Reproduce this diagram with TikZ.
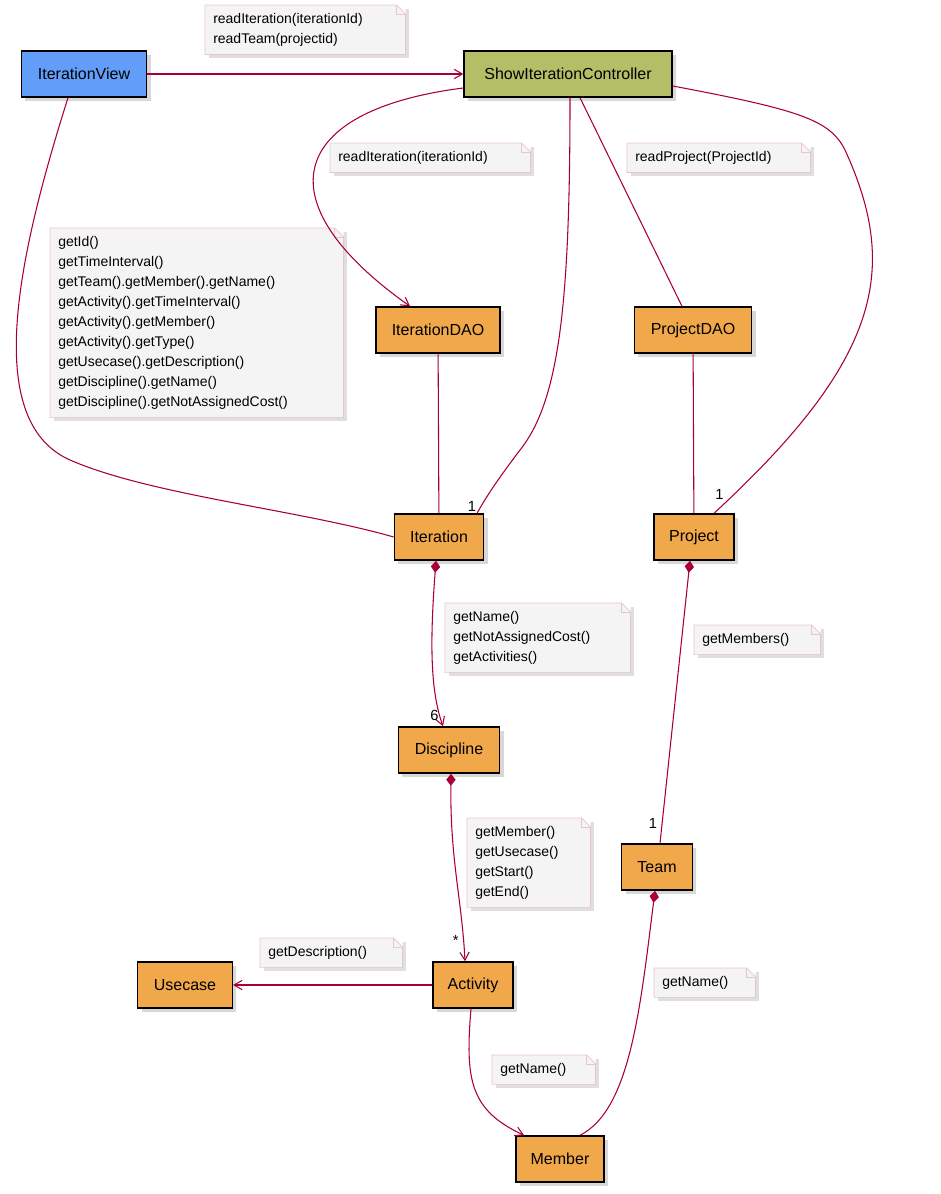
\documentclass[tikz,border=0pt]{standalone}
\usepackage{fontspec}
\setmainfont{Liberation Sans}
\usetikzlibrary{arrows.meta,shadows,calc}
\definecolor{ln}{HTML}{A80036}
\definecolor{cls}{HTML}{F1A84A}
\definecolor{vw}{HTML}{629EF9}
\definecolor{ctl}{HTML}{B4BE67}
\definecolor{notef}{HTML}{F4F4F4}
\definecolor{noteb}{HTML}{E8C4CC}
\tikzset{
 x=0.75pt,y=-0.75pt,
 box/.style={draw=black,line width=1.1pt,fill=cls,minimum height=34.5pt,inner xsep=8pt,font=\fontsize{12}{14}\selectfont,drop shadow={shadow xshift=3pt,shadow yshift=-3pt,fill=gray!60}},
 note/.style={fill=notef,draw=none,anchor=north west,align=left,inner xsep=6pt,inner ysep=6pt,font=\fontsize{10.5}{15}\selectfont,drop shadow={shadow xshift=3pt,shadow yshift=-3pt,fill=gray!50}},
 e/.style={draw=ln,line width=0.8pt},
 ar/.style={e,-{Straight Barb[length=6pt,width=7pt]}},
 di/.style={e,{Diamond[length=9pt,width=7pt,fill=ln]}-},
 dia/.style={e,{Diamond[length=9pt,width=7pt,fill=ln]}-{Straight Barb[length=6pt,width=7pt]}},
 lb/.style={font=\fontsize{11}{13}\selectfont}
}
\newcommand{\nt}[4]{% name, pos, width(px), text
 \node[note,text width=#3*0.75pt-12pt] (#1) at (#2) {#4};
 \fill[white] ($(#1.north east)+(-9,0)$) -- (#1.north east) -- ($(#1.north east)+(0,9)$) -- cycle;
 \draw[noteb,line width=0.5pt] (#1.south west) -- (#1.north west) -- ($(#1.north east)+(-9,0)$) -- ($(#1.north east)+(0,9)$) -- (#1.south east) -- cycle;
 \draw[noteb,line width=0.5pt] ($(#1.north east)+(-9,0)$) -- ($(#1.north east)+(-9,9)$) -- ($(#1.north east)+(0,9)$);}
\begin{document}
\begin{tikzpicture}
\useasboundingbox (0,0) rectangle (940,1194);
% notes
\nt{n1}{205,5}{200}{readIteration(iterationId)\\readTeam(projectid)}
\nt{n2}{330,143}{200}{readIteration(iterationId)}
\nt{n3}{627,143}{183}{readProject(ProjectId)}
\nt{n4}{50,228}{293}{getId()\\getTimeInterval()\\getTeam().getMember().getName()\\getActivity().getTimeInterval()\\getActivity().getMember()\\getActivity().getType()\\getUsecase().getDescription()\\getDiscipline().getName()\\getDiscipline().getNotAssignedCost()}
\nt{n5}{445,603}{185}{getName()\\getNotAssignedCost()\\getActivities()}
\nt{n6}{694,625}{126}{getMembers()}
\nt{n7}{467,818}{123}{getMember()\\getUsecase()\\getStart()\\getEnd()}
\nt{n8}{260,938}{142}{getDescription()}
\nt{n9}{654,968}{101}{getName()}
\nt{n10}{492,1055}{103}{getName()}
% classes
\node[box,fill=vw,minimum width=94pt] (iv) at (84,74) {IterationView};
\node[box,fill=ctl,minimum width=156pt] (sic) at (568,74) {ShowIterationController};
\node[box,minimum width=93pt] (idao) at (438,330) {IterationDAO};
\node[box,minimum width=88pt] (pdao) at (693,330) {ProjectDAO};
\node[box,minimum width=67pt] (it) at (439,537) {Iteration};
\node[box,minimum width=60pt] (pr) at (694,537) {Project};
\node[box,minimum width=76pt] (dis) at (449,750) {Discipline};
\node[box,minimum width=53pt] (tm) at (657,867) {Team};
\node[box,minimum width=71pt] (uc) at (185,985) {Usecase};
\node[box,minimum width=60pt] (ac) at (473,985) {Activity};
\node[box,minimum width=66pt] (mb) at (560,1159) {Member};
% edges
\draw[ar] (iv) -- (sic);
\draw[e] (iv.south) ++(-16,0) .. controls (20,250) and (-20,420) .. (70,460) .. controls (150,495) and (300,510) .. (it.west);
\draw[ar] (sic.west) ++(0,14) .. controls (290,110) and (260,200) .. ($(idao.north)+(-28,0)$);
\draw[e] ($(sic.south)+(2,0)$) .. controls (570,300) and (560,400) .. (520,450) .. controls (505,470) and (490,490) .. ($(it.north)+(38,0)$) node[lb,pos=0.9,left,black] {1};
\draw[e] ($(sic.south)+(12,0)$) -- ($(pdao.north)+(-11,0)$);
\draw[e] ($(sic.east)+(0,12)$) .. controls (800,110) and (830,120) .. (845,150) .. controls (900,270) and (880,360) .. ($(pr.north)+(20,0)$) node[lb,pos=0.97,left,black,yshift=4pt] {1};
\draw[e] (idao) -- (it);
\draw[e] (pdao) -- (pr);
\draw[dia] ($(it.south)+(-3,0)$) .. controls (430,640) and (430,690) .. ($(dis.north)+(-6,0)$) node[lb,pos=0.9,left,black,xshift=3pt] {6};
\draw[di] ($(pr.south)+(-4,0)$) -- ($(tm.north)+(3,0)$) node[lb,pos=0.93,left,black] {1};
\draw[dia] ($(dis.south)+(2,0)$) .. controls (450,860) and (462,900) .. ($(ac.north)+(-8,0)$) node[lb,pos=0.88,left,black] {*};
\draw[ar] (ac) -- (uc);
\draw[ar] ($(ac.south)+(-2,0)$) .. controls (465,1080) and (470,1110) .. ($(mb.north)+(-36,0)$);
\draw[di] ($(tm.south)+(-2,0)$) .. controls (640,1010) and (630,1110) .. ($(mb.north)+(20,0)$);
\end{tikzpicture}
\end{document}
